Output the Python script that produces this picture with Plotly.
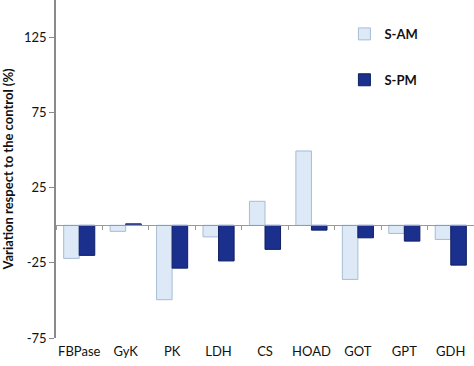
import plotly.graph_objects as go

categories = ["FBPase", "GyK", "PK", "LDH", "CS", "HOAD", "GOT", "GPT", "GDH"]
s_am = [-22, -4, -49.5, -7.7, 16, 49.5, -36, -5.4, -9.4]
s_pm = [-20, 1, -28.5, -23.7, -16, -3.2, -8.3, -10.5, -26.5]
y_ticks = [125, 75, 25, -25, -75]
y_range = [-75, 150]

FONT = "Lato"

fig = go.Figure()
fig.add_trace(go.Bar(
    x=categories, y=s_am, name="S-AM", legendgroup="a",
    marker=dict(color="#dde9f6", line=dict(color="#a7bcd3", width=1)),
))
fig.add_trace(go.Bar(
    x=categories, y=s_pm, name="S-PM", legendgroup="b",
    marker=dict(color="#1b2f8c", line=dict(color="#0f1f63", width=1)),
))

zero_pos = (0 - y_range[0]) / (y_range[1] - y_range[0])

fig.update_layout(
    width=474, height=366,
    margin=dict(l=56, r=0, t=0, b=28),
    paper_bgcolor="white", plot_bgcolor="white",
    barmode="group", bargap=0.33, bargroupgap=0,
    font=dict(family=FONT, size=13, color="#111"),
    showlegend=True,
    legend=dict(x=0.69, y=0.944, xanchor="left", yanchor="top",
                font=dict(family=FONT, size=13, color="#111", weight="bold"),
                tracegroupgap=26, itemwidth=30, bgcolor="rgba(0,0,0,0)"),
    xaxis=dict(
        anchor="free", position=zero_pos, automargin=False,
        showline=True, linecolor="#9a9a9a", linewidth=1,
        ticks="outside", tickson="boundaries", ticklen=4, tickcolor="#9a9a9a",
        showticklabels=False, showgrid=False, zeroline=False,
    ),
    xaxis2=dict(
        overlaying="x", anchor="y", side="bottom", matches="x", automargin=False,
        showline=False, ticks="", showgrid=False, zeroline=False,
        ticklabelstandoff=4,
        tickfont=dict(family=FONT, size=13, color="#111"),
    ),
    yaxis=dict(
        range=y_range, tickvals=y_ticks, ticktext=[str(v) for v in y_ticks],
        automargin=False,
        showline=True, linecolor="#8a8a8a", linewidth=1.5,
        ticks="outside", ticklen=5, tickcolor="#8a8a8a",
        showgrid=False, zeroline=False,
        tickfont=dict(family=FONT, size=13, color="#111"),
        title=dict(text="Variation respect to the control (%)",
                   font=dict(family=FONT, size=13, color="#111", weight="bold"),
                   standoff=8),
    ),
)
# invisible trace to show category labels on bottom axis
fig.add_trace(go.Bar(x=categories, y=[0]*len(categories), xaxis="x2",
                     showlegend=False, hoverinfo="skip",
                     marker=dict(color="rgba(0,0,0,0)")))
fig.write_html("out.html", config={"displayModeBar": False},
               post_script="document.body.style.margin='0';document.body.style.overflow='hidden';")
